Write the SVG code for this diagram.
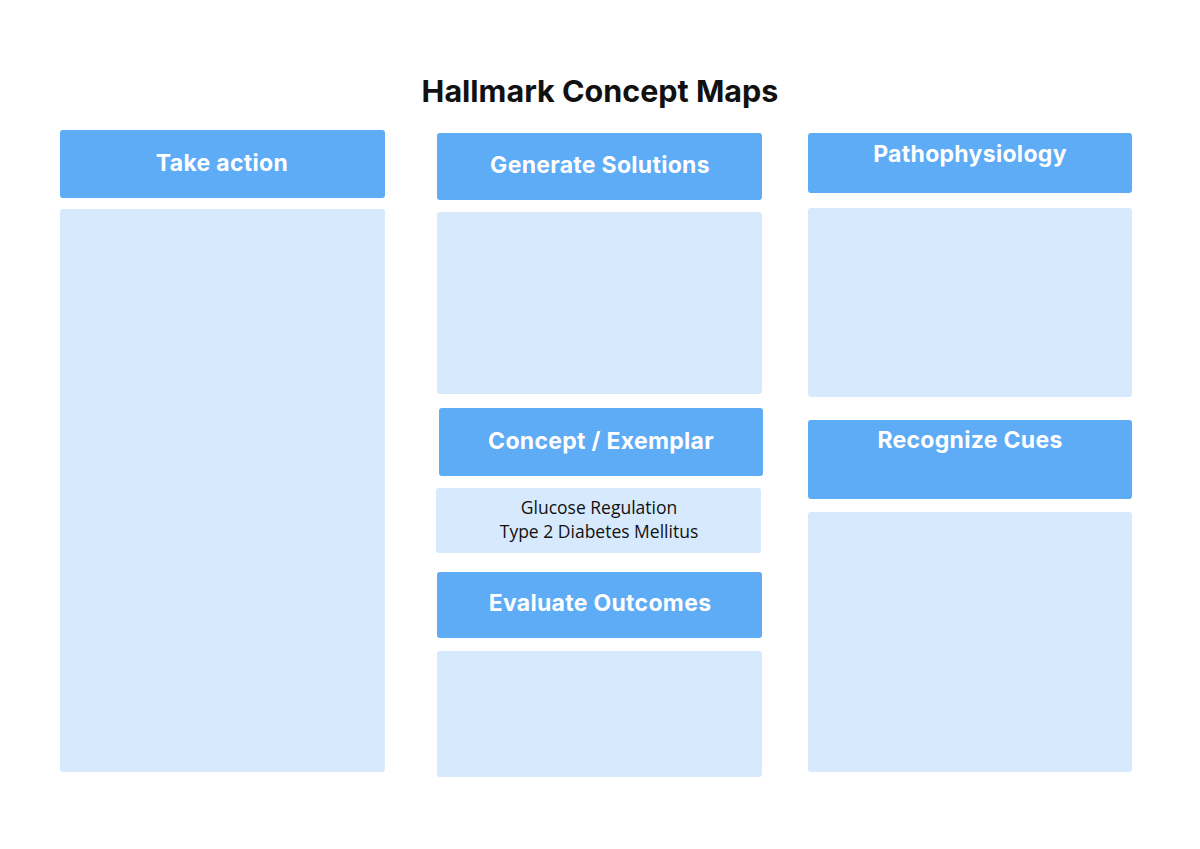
<svg xmlns="http://www.w3.org/2000/svg" width="1200" height="849" viewBox="0 0 1200 849">
<style>
.h{fill:#5eabf6}
.b{fill:#d7e9fd}
.ht{font-family:Inter,"Open Sans",sans-serif;font-weight:bold;font-size:23px;letter-spacing:0.3px;fill:#fff;text-anchor:middle}
.bt{font-family:"Open Sans","Noto Sans",sans-serif;font-size:17.5px;fill:#111;text-anchor:middle}
</style>
<rect width="1200" height="849" fill="#fff"/>
<text x="600" y="102" font-family="Inter,Lato,sans-serif" font-weight="bold" font-size="30.5" fill="#111" text-anchor="middle">Hallmark Concept Maps</text>
<g id="take-action"><rect class="h" x="60" y="130" width="325" height="68" rx="3"/><text class="ht" x="222" y="171">Take action</text><rect class="b" x="60" y="209" width="325" height="563" rx="3"/></g>
<g id="generate-solutions"><rect class="h" x="437" y="133" width="325" height="67" rx="3"/><text class="ht" x="600" y="173">Generate Solutions</text><rect class="b" x="437" y="212" width="325" height="182" rx="3"/></g>
<g id="concept-exemplar"><rect class="h" x="439" y="408" width="324" height="68" rx="3"/><text class="ht" x="601" y="449">Concept / Exemplar</text><rect class="b" x="436" y="488" width="325" height="65" rx="3"/><text class="bt" x="599" y="514">Glucose Regulation</text><text class="bt" x="599" y="538">Type 2 Diabetes Mellitus</text></g>
<g id="evaluate-outcomes"><rect class="h" x="437" y="572" width="325" height="66" rx="3"/><text class="ht" x="600" y="611">Evaluate Outcomes</text><rect class="b" x="437" y="651" width="325" height="126" rx="3"/></g>
<g id="pathophysiology"><rect class="h" x="808" y="133" width="324" height="60" rx="3"/><text class="ht" x="970" y="162">Pathophysiology</text><rect class="b" x="808" y="208" width="324" height="189" rx="3"/></g>
<g id="recognize-cues"><rect class="h" x="808" y="420" width="324" height="79" rx="3"/><text class="ht" x="970" y="448">Recognize Cues</text><rect class="b" x="808" y="512" width="324" height="260" rx="3"/></g>
<g id="connectors"/>
</svg>
